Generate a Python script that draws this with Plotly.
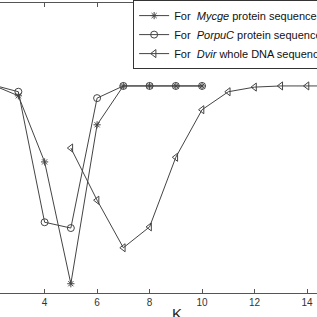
import plotly.graph_objects as go

# K values and series (y in arbitrary normalized units)
k_mycge = [2, 3, 4, 5, 6, 7, 8, 9, 10]
v_mycge = [0.959, 0.940, 0.826, 0.616, 0.890, 0.957, 0.957, 0.957, 0.957]

k_porpuc = [2, 3, 4, 5, 6, 7, 8, 9, 10]
v_porpuc = [0.959, 0.947, 0.722, 0.712, 0.936, 0.957, 0.957, 0.957, 0.957]

k_dvir = [5, 6, 7, 8, 9, 10, 11, 12, 13, 14, 15]
v_dvir = [0.850, 0.760, 0.678, 0.714, 0.834, 0.916, 0.947, 0.955, 0.957, 0.957, 0.957]

names = ["For  <i>Mycge</i> protein sequence",
         "For  <i>PorpuC</i> protein sequence",
         "For  <i>Dvir</i> whole DNA sequence"]

line_col = "#444444"
fig = go.Figure()
fig.add_trace(go.Scatter(x=k_mycge, y=v_mycge, mode="lines+markers", name=names[0],
                         line=dict(color=line_col, width=1),
                         marker=dict(symbol="asterisk-open", size=6, line=dict(color=line_col, width=1))))
fig.add_trace(go.Scatter(x=k_porpuc, y=v_porpuc, mode="lines+markers", name=names[1],
                         line=dict(color=line_col, width=1),
                         marker=dict(symbol="circle-open", size=7, line=dict(color=line_col, width=1))))
fig.add_trace(go.Scatter(x=k_dvir, y=v_dvir, mode="lines+markers", name=names[2],
                         line=dict(color=line_col, width=1),
                         marker=dict(symbol="triangle-left-open", size=7, line=dict(color=line_col, width=1))))

fig.update_layout(
    width=317, height=317,
    margin=dict(l=0, r=0, t=3, b=24, autoexpand=False),
    paper_bgcolor="white", plot_bgcolor="white",
    font=dict(family="Liberation Sans, Arial, sans-serif", color="#222"),
    showlegend=True,
    legend=dict(x=0.42, y=1.01, xanchor="left", yanchor="top",
                bordercolor="#333", borderwidth=1, bgcolor="white",
                font=dict(size=11, color="#111"), itemwidth=30,
                tracegroupgap=0),
    annotations=[dict(text="K", x=9.06, xref="x", y=-0.07, yref="paper",
                      xanchor="center", yanchor="middle", showarrow=False,
                      font=dict(size=15, color="#222"))],
)
fig.update_xaxes(range=[2.30, 14.38], tickvals=[4, 6, 8, 10, 12, 14],
                 ticks="inside", ticklen=4, tickcolor="#555",
                 showline=True, linecolor="#555", linewidth=1, mirror="ticks",
                 showgrid=False, zeroline=False,
                 tickfont=dict(size=10, color="#333"))
fig.update_yaxes(range=[0.6, 1.1], showticklabels=False, ticks="",
                 showline=False, showgrid=False, zeroline=False)

fig.write_html("out.html")
